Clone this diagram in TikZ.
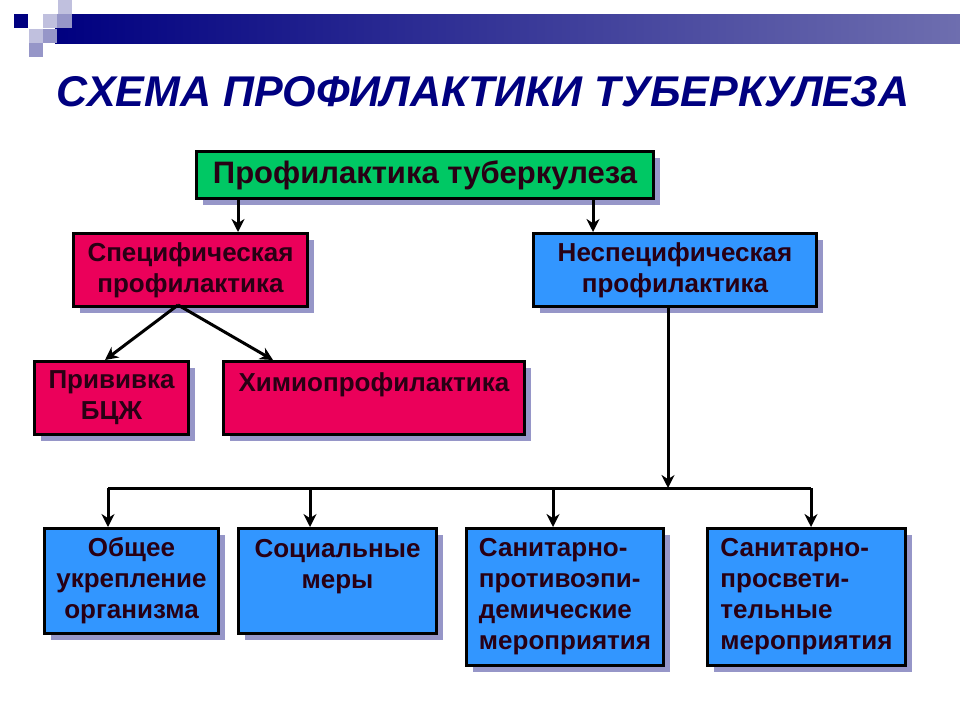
\documentclass[tikz,border=0pt]{standalone}
\usepackage{fontspec}
\setmainfont{Liberation Sans}
\usetikzlibrary{arrows.meta}
\definecolor{navy}{RGB}{0,0,128}
\definecolor{barend}{RGB}{110,110,175}
\definecolor{shad}{RGB}{150,150,200}
\definecolor{gr}{RGB}{0,200,100}
\definecolor{pk}{RGB}{235,0,90}
\definecolor{bl}{RGB}{50,150,255}
\definecolor{tx}{RGB}{40,0,20}
\begin{document}
\begin{tikzpicture}[x=1pt,y=-1pt,
  box/.style={draw=black,line width=3pt,inner sep=0pt,anchor=north west},
  txt/.style={font=\fontsize{26}{31}\selectfont\bfseries,text=tx,inner sep=0pt,align=center},
  arr/.style={line width=3pt,-{Stealth[length=13pt,width=13pt]}},
  ln/.style={line width=3pt}]
\useasboundingbox (0,0) rectangle (960,720);
% header
\shade[left color=navy,right color=barend] (55,14) rectangle (960,43);
\fill[navy] (14,14) rectangle (28,28);
\fill[shad!60] (58,0) rectangle (72,14);
\fill[shad!60] (43,14) rectangle (57,28);
\fill[shad] (57,14) rectangle (72,28);
\fill[shad!60] (29,29) rectangle (43,43);
\fill[shad] (43,29) rectangle (57,43);
\fill[shad] (29,43) rectangle (43,57);
\node[font=\fontsize{43}{46}\selectfont\bfseries\itshape,text=navy] (title) at (483,92) {СХЕМА ПРОФИЛАКТИКИ ТУБЕРКУЛЕЗА};
% shadows
\foreach \a/\b/\c/\d in {195/150/652/197,72/232/306/305,532/232/815/305,33/360/187/433,222/360/523/433,43/527/217/632,237/527/435/632,465/527/662/664,706/527/904/664}
  \fill[shad] (\a+8,\b+8) rectangle (\c+8,\d+8);
\node[box,fill=gr,minimum width=457pt,minimum height=47pt] (top) at (195,150) {};
\node[box,fill=pk,minimum width=234pt,minimum height=73pt] (spec) at (72,232) {};
\node[box,fill=bl,minimum width=283pt,minimum height=73pt] (nspec) at (532,232) {};
\node[box,fill=pk,minimum width=154pt,minimum height=73pt] (priv) at (33,360) {};
\node[box,fill=pk,minimum width=301pt,minimum height=73pt] (him) at (222,360) {};
\node[box,fill=bl,minimum width=174pt,minimum height=105pt] (ob) at (43,527) {};
\node[box,fill=bl,minimum width=198pt,minimum height=105pt] (soc) at (237,527) {};
\node[box,fill=bl,minimum width=197pt,minimum height=137pt] (spe) at (465,527) {};
\node[box,fill=bl,minimum width=198pt,minimum height=137pt] (spr) at (706,527) {};
% texts
\node[txt,font=\fontsize{31}{31}\selectfont\bfseries] (ttop) at (top.center) {Профилактика туберкулеза};
\node[txt] (tspec) at (spec.center) {Специфическая\\профилактика};
\node[txt] (tnspec) at (nspec.center) {Неспецифическая\\профилактика};
\node[txt] (tpriv) at (priv.center) {Прививка\\БЦЖ};
\node[txt,anchor=north] (thim) at ([yshift=-12pt]him.north) {Химиопрофилактика};
\node[txt] (tob) at (ob.center) {Общее\\укрепление\\организма};
\node[txt,anchor=north] (tsoc) at ([yshift=-12pt]soc.north) {Социальные\\меры};
\node[txt,align=left] (tspe) at (spe.center) {Санитарно-\\противоэпи-\\демические\\мероприятия};
\node[txt,align=left] (tspr) at (spr.center) {Санитарно-\\просвети-\\тельные\\мероприятия};
% connectors
\draw[arr] (top.south -| 238,0) -- (spec.north -| 238,0);
\draw[arr] (top.south -| 593,0) -- (nspec.north -| 593,0);
\coordinate (sb) at (178,305);
\draw[arr] (sb) -- (105,360);
\draw[arr] (sb) -- (273,360);
\coordinate (hj) at (668,488);
\draw[arr] (nspec.south -| hj) -- (hj);
\coordinate (hl) at (108,488);
\coordinate (hr) at (811,488);
\draw[ln] (hl) -- (hr);
\draw[arr] (hl) -- (ob.north -| hl);
\draw[arr] (310,488) -- (soc.north -| 310,0);
\draw[arr] (553,488) -- (spe.north -| 553,0);
\draw[arr] (hr) -- (spr.north -| hr);
\end{tikzpicture}
\end{document}
